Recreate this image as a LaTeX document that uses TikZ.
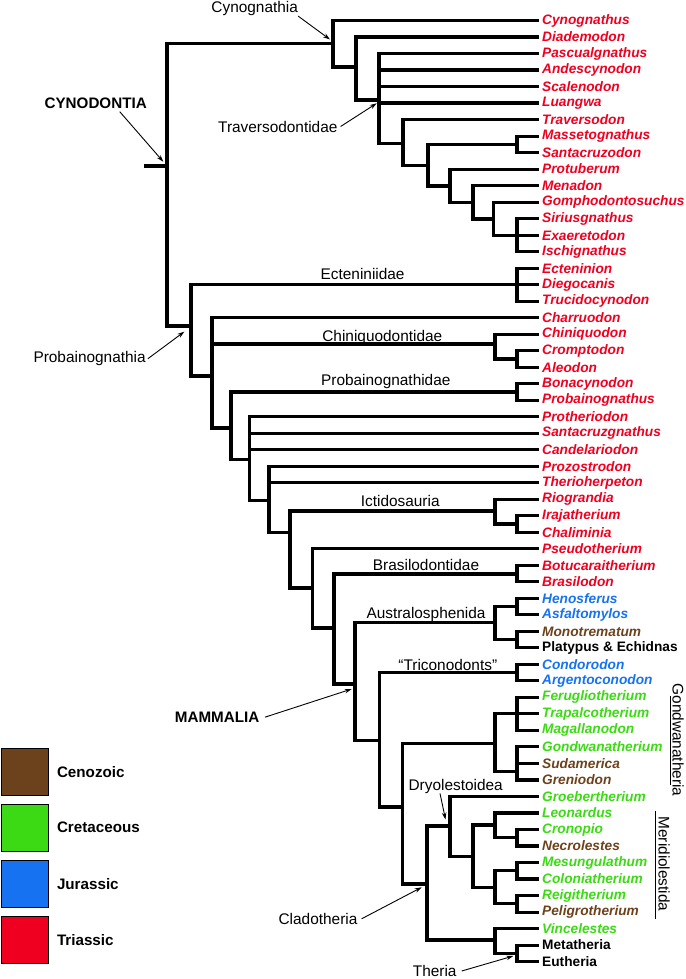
\documentclass[tikz,border=0pt]{standalone}
\usepackage{fontspec}
\setmainfont{Liberation Sans}
\usetikzlibrary{arrows.meta,positioning}
\definecolor{triassic}{RGB}{240,0,32}
\definecolor{jurassic}{RGB}{22,114,240}
\definecolor{cretaceous}{RGB}{60,218,20}
\definecolor{cenozoic}{RGB}{108,66,28}
\begin{document}
\begin{tikzpicture}[x=1pt,y=-1pt,
  declare function={ly(\j)=20.5+16.51*\j;},
  branch/.style={line width=3.1pt,line cap=rect},
  pointer/.style={line width=0.9pt,-{Stealth[length=7pt,width=4.5pt]}},
  bracket/.style={line width=1pt},
  taxon/.style={anchor=west,inner sep=0pt,font=\fontsize{13.7}{16}\selectfont\bfseries\itshape},
  tri/.style={taxon,text=triassic},
  jur/.style={taxon,text=jurassic},
  cre/.style={taxon,text=cretaceous},
  cen/.style={taxon,text=cenozoic},
  crown/.style={taxon,font=\fontsize{13.7}{16}\selectfont\bfseries},
  clade/.style={anchor=base,inner sep=0pt,font=\fontsize{15.4}{18}\selectfont},
  bigclade/.style={clade,font=\fontsize{15.2}{18}\selectfont\bfseries},
  swatch/.style={draw,line width=0.8pt,minimum width=47.5pt,minimum height=46.5pt,inner sep=0pt,anchor=north west},
  period/.style={inner sep=0pt,font=\fontsize{15.2}{18}\selectfont\bfseries}]
\useasboundingbox (0,0) rectangle (685,979);

% internal nodes
\foreach \n/\x/\y in {root/167/166, cyng/333/43.5, n1/356/67, trav/379/100, n2/403/143.3,
    n3/428/165.2, n4/517/144.4, n5/450/186, n6/473/202.7, n7/493.5/219, n8/517/235.1,
    prob/191/326, ect/517/284.7, n9/212/376, chin/495/344, n11/517/359, n10/231/428,
    probn/517/392, n12/249.5/459.5, n13/269/500.5, n14/290/532.5, ict/495/511, n16/517/524,
    n15/312.5/588, n17/334/628, bras/517/574, mam/355/684, aus/495/622.5, n19/517/606.6,
    n20/517/639.6, n18/379.5/740.5, tric/517/672.6, n21/402.5/807, gond/495/743.5,
    n22/517/713.9, n23/517/771.7, clad/427/884, dry/450/826, n25/473/856.5, n26/495/825,
    n28/517/837.75, n27/495/887.5, n29/517/870.75, n30/517/903.75, n24/495/940, ther/517/953.3}
  \coordinate (\n) at (\x,\y);
\coordinate (stub) at (146,166);

% leaves
\foreach \name/\txt/\sty/\anc [count=\i from 0] in {
    cyno/Cynognathus/tri/cyng, diad/Diademodon/tri/n1, pasc/Pascualgnathus/tri/trav,
    ande/Andescynodon/tri/trav, scal/Scalenodon/tri/trav, luan/Luangwa/tri/trav,
    travd/Traversodon/tri/n2, mass/Massetognathus/tri/n4, sant/Santacruzodon/tri/n4,
    prot/Protuberum/tri/n5, mena/Menadon/tri/n6, gomp/Gomphodontosuchus/tri/n7,
    siri/Siriusgnathus/tri/n8, exae/Exaeretodon/tri/n8, isch/Ischignathus/tri/n8,
    ecte/Ecteninion/tri/ect, dieg/Diegocanis/tri/ect, truc/Trucidocynodon/tri/ect,
    char/Charruodon/tri/n9, chiq/Chiniquodon/tri/chin, crom/Cromptodon/tri/n11,
    aleo/Aleodon/tri/n11, bona/Bonacynodon/tri/probn, pbno/Probainognathus/tri/probn,
    proth/Protheriodon/tri/n12, sacg/Santacruzgnathus/tri/n12, cand/Candelariodon/tri/n12,
    proz/Prozostrodon/tri/n13, thrh/Therioherpeton/tri/n13, rio/Riograndia/tri/ict,
    iraj/Irajatherium/tri/n16, chal/Chaliminia/tri/n16, pseu/Pseudotherium/tri/n15,
    botu/Botucaraitherium/tri/bras, brsl/Brasilodon/tri/bras, heno/Henosferus/jur/n19,
    asfa/Asfaltomylos/jur/n19, mono/Monotrematum/cen/n20, plat/Platypus \& Echidnas/crown/n20,
    cond/Condorodon/jur/tric, arge/Argentoconodon/jur/tric, feru/Ferugliotherium/cre/n22,
    trap/Trapalcotherium/cre/n22, maga/Magallanodon/cre/n22, gwan/Gondwanatherium/cre/n23,
    suda/Sudamerica/cen/n23, gren/Greniodon/cen/n23, groe/Groebertherium/cre/dry,
    leon/Leonardus/cre/n26, cron/Cronopio/cre/n28, necr/Necrolestes/cen/n28,
    mesu/Mesungulathum/cre/n29, colo/Coloniatherium/cre/n29, reig/Reigitherium/cre/n30,
    peli/Peligrotherium/cen/n30, vinc/Vincelestes/cre/n24, meta/Metatheria/crown/ther,
    euth/Eutheria/crown/ther} {
  \coordinate (\name) at (537,{ly(\i)});
  \node[\sty] (t-\name) at (542,{ly(\i)}) {\txt};
  \draw[branch] (\anc |- \name) -- (\name);
}

% clades
\draw[branch] (stub) -- (root);
\draw[branch] (root |- cyng) -- (root |- prob);
\foreach \n/\anc/\first/\last in {cyng/root/cyno/n1, n1/cyng/diad/trav, trav/n1/pasc/n2,
    n2/trav/travd/n3, n3/n2/n4/n5, n4/n3/mass/sant, n5/n3/prot/n6, n6/n5/mena/n7,
    n7/n6/gomp/n8, n8/n7/siri/isch, prob/root/ect/n9, ect/prob/ecte/truc, n9/prob/char/n10,
    chin/n9/chiq/n11, n11/chin/crom/aleo, n10/n9/probn/n12, probn/n10/bona/pbno,
    n12/n10/proth/n13, n13/n12/proz/n14, n14/n13/ict/n15, ict/n14/rio/n16, n16/ict/iraj/chal,
    n15/n14/pseu/n17, n17/n15/bras/mam, bras/n17/botu/brsl, mam/n17/aus/n18, aus/mam/n19/n20,
    n19/aus/heno/asfa, n20/aus/mono/plat, n18/mam/tric/n21, tric/n18/cond/arge,
    n21/n18/gond/clad, gond/n21/n22/n23, n22/gond/feru/maga, n23/gond/gwan/gren,
    clad/n21/dry/n24, dry/clad/groe/n25, n25/dry/n26/n27, n26/n25/leon/n28, n28/n26/cron/necr,
    n27/n25/n29/n30, n29/n27/mesu/colo, n30/n27/reig/peli, n24/clad/vinc/ther, ther/n24/meta/euth} {
  \draw[branch] (\anc |- \n) -- (\n);
  \draw[branch] (\n |- \first) -- (\n |- \last);
}

% clade names
\node[clade] (l-ect) at (362.6,279.3) {Ecteniniidae};
\node[clade] (l-chin) at (382.3,341.5) {Chiniquodontidae};
\node[clade] (l-probn) at (385.8,385.5) {Probainognathidae};
\node[clade] (l-ict) at (400.2,506) {Ictidosauria};
\node[clade] (l-bras) at (426,570.5) {Brasilodontidae};
\node[clade] (l-aus) at (426,618.5) {Australosphenida};
\node[clade] (l-tric) at (447.8,670) {``Triconodonts''};

\node[clade] (l-cyng) at (254.7,12.7) {Cynognathia};
\node[clade] (l-trav) at (277.8,132) {Traversodontidae};
\node[bigclade] (l-cyno) at (95.7,108.3) {CYNODONTIA};
\node[clade] (l-prob) at (89.6,362.7) {Probainognathia};
\node[bigclade] (l-mam) at (217.1,722.4) {MAMMALIA};
\node[clade] (l-dry) at (455.7,790) {Dryolestoidea};
\node[clade] (l-clad) at (318,924.3) {Cladotheria};
\node[clade] (l-ther) at (434.7,976.5) {Theria};

\coordinate (p-cyng) at (330,39.5);
\coordinate (p-trav) at (376.7,103.3);
\coordinate (p-cyno) at (163.3,161.7);
\coordinate (p-prob) at (184.3,331.7);
\coordinate (p-mam) at (351.7,689);
\coordinate (p-dry) at (445.5,819.5);
\coordinate (p-clad) at (421.7,887.3);
\coordinate (p-ther) at (513.3,956);
\draw[pointer] (l-cyng.south east) -- (p-cyng);
\draw[pointer] ([xshift=3pt]l-trav.east) -- (p-trav);
\draw[pointer] ([xshift=24pt,yshift=-3pt]l-cyno.south) -- (p-cyno);
\draw[pointer] ([xshift=2pt]l-prob.east) -- (p-prob);
\draw[pointer] ([xshift=5.5pt]l-mam.east) -- (p-mam);
\draw[pointer] ([xshift=-15.7pt]l-dry.south) -- (p-dry);
\draw[pointer] ([xshift=4pt]l-clad.east) -- (p-clad);
\draw[pointer] ([xshift=5pt]l-ther.east) -- (p-ther);

% side brackets
\coordinate (g-top) at (670,695.5);
\coordinate (g-bot) at (670,784.5);
\draw[bracket] (g-top) -- (g-bot);
\node[clade,rotate=-90] (l-gond) at (672.5,740) {Gondwanatheria};
\coordinate (m-top) at (655.3,811);
\coordinate (m-bot) at (655.3,918.7);
\draw[bracket] (m-top) -- (m-bot);
\node[clade,rotate=-90] (l-meri) at (658.5,864) {Meridiolestida};

% legend
\foreach \per/\col [count=\i from 0] in {Cenozoic/cenozoic, Cretaceous/cretaceous,
    Jurassic/jurassic, Triassic/triassic} {
  \node[swatch,fill=\col] (s-\per) at (0.5,{748+56*\i}) {};
  \node[period,right=8pt of s-\per] (k-\per) {\per};
}
\end{tikzpicture}
\end{document}
